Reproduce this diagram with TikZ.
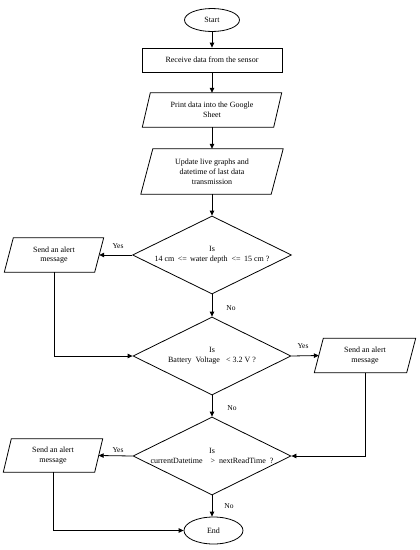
\documentclass[tikz,border=0pt]{standalone}
\usepackage{fontspec}
\setmainfont{Liberation Serif}
\usetikzlibrary{shapes.geometric,arrows.meta,positioning,calc}
\tikzset{
  base/.style={font=\fontsize{8}{9.8}\selectfont, align=center, inner sep=0pt},
  term/.style={base, ellipse, draw, line width=0.8pt},
  proc/.style={base, rectangle, draw, line width=0.8pt},
  iobox/.style={base, rectangle},
  dia/.style={base, diamond, draw, line width=0.8pt},
  lbl/.style={base},
  conn/.style={line width=0.8pt, -{Triangle[length=5pt,width=4.5pt]}},
  plain/.style={line width=0.8pt},
  edgelbl/.style={font=\fontsize{7.5}{8}\selectfont, inner sep=0pt}
}
\newcommand{\paraline}[2]{%
  \draw[line width=0.8pt] ($(#1.north west)+(#2,0)$) -- ($(#1.north east)+(#2,0)$)
    -- ($(#1.south east)-(#2,0)$) -- ($(#1.south west)-(#2,0)$) -- cycle;}
\begin{document}
\begin{tikzpicture}[x=1pt,y=-1pt]
\useasboundingbox (0,0) rectangle (420,550);
\fill[white] (0,0) rectangle (420,550);

\node[term, minimum width=55pt, minimum height=23pt] (start) at (212,20) {Start};
\node[proc, minimum width=140pt, minimum height=24pt] (recv) at (212,60) {Receive data from the sensor};
\node[iobox, minimum width=131pt, minimum height=34pt] (print) at (212,110) {Print data into the Google\\Sheet};
\paraline{print}{4}
\node[iobox, minimum width=130pt, minimum height=45pt] (update) at (212,171.5) {Update live graphs and\\datetime of last data\\transmission};
\paraline{update}{6}

\node[dia, minimum width=159pt, minimum height=78pt,
  label={[lbl]center:Is\\14 cm \,<= \,water depth \ <= \,15 cm ?}] (d1) at (212,255) {};
\node[dia, minimum width=158pt, minimum height=78pt,
  label={[lbl]center:Is\\Battery \ Voltage \ \ < 3.2 V ?}] (d2) at (212,356) {};
\node[dia, minimum width=158pt, minimum height=78pt,
  label={[lbl]center:Is\\currentDatetime \ \ \ > \ nextReadTime \ ?}] (d3) at (212,456) {};

\node[iobox, minimum width=90pt, minimum height=34pt] (a1) at (54,255) {Send an alert\\message};
\paraline{a1}{4.5}
\node[iobox, minimum width=92pt, minimum height=34pt] (a2) at (365,355.5) {Send an alert\\message};
\paraline{a2}{4.5}
\node[iobox, minimum width=91pt, minimum height=33pt] (a3) at (53,455.5) {Send an alert\\message};
\paraline{a3}{4}

\node[term, minimum width=59pt, minimum height=27pt] (end) at (213.5,530.5) {End};

\draw[conn] (start) -- (recv);
\draw[conn] (recv) -- (print);
\draw[conn] (print) -- (update);
\draw[conn] (update) -- (d1);

\draw[conn] (d1.west) -- (a1.east);
\node[edgelbl] (y1) at (118,246) {Yes};
\draw[conn] (d1.south) -- (d2.north);
\node[edgelbl] (n1) at (231,308) {No};
\draw[conn] (a1.south) |- (d2.west);

\draw[conn] (d2.east) -- (a2.west);
\node[edgelbl] (y2) at (303,346) {Yes};
\draw[conn] (d2.south) -- (d3.north);
\node[edgelbl] (n2) at (232,408) {No};
\draw[conn] (a2.south) |- (d3.east);

\draw[conn] (d3.west) -- (a3.east);
\node[edgelbl] (y3) at (118,450) {Yes};
\draw[conn] (d3.south) -- (end.north -| d3.south);
\node[edgelbl] (n3) at (229,506) {No};
\draw[conn] (a3.south) |- (end.west);
\end{tikzpicture}
\end{document}
